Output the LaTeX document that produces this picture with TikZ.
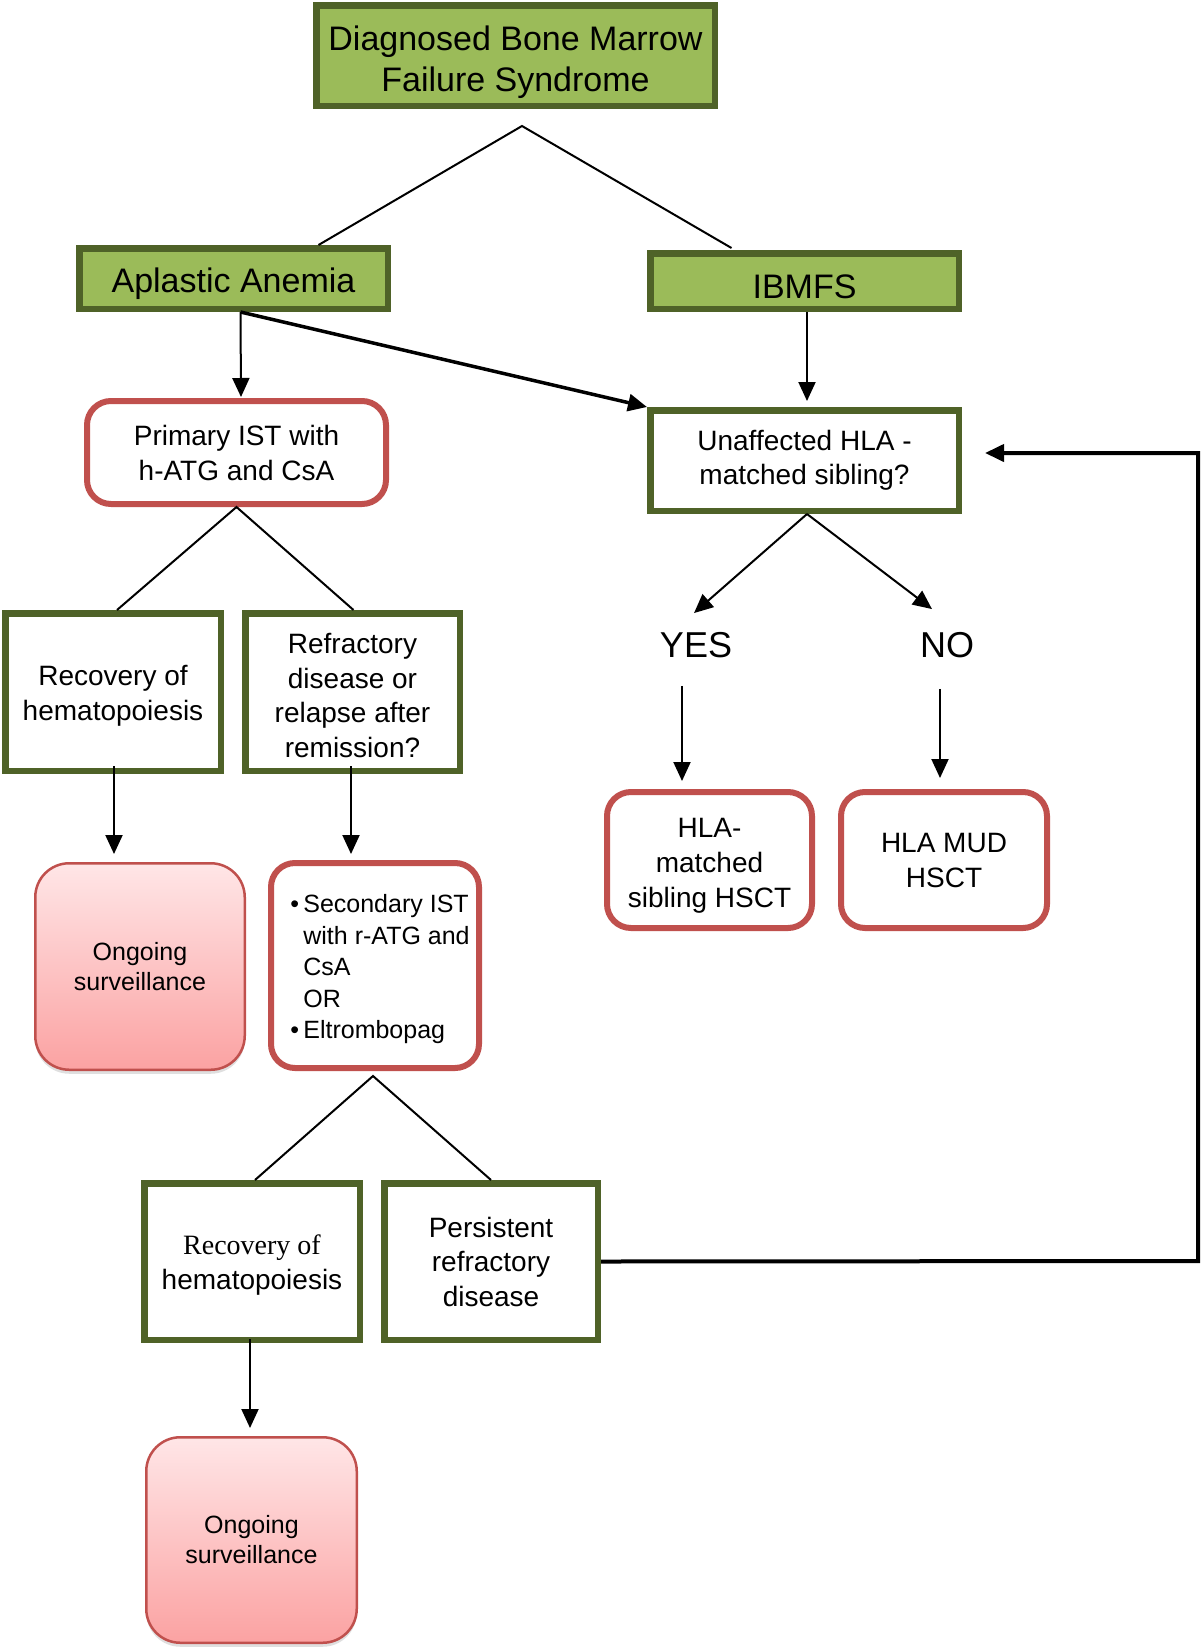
\documentclass[tikz,border=0pt]{standalone}
\usepackage{fontspec}
\setmainfont{Liberation Sans}
\newfontfamily\romanfont{Liberation Serif}
\usetikzlibrary{arrows.meta}
\usetikzlibrary{shadows}
\definecolor{boxgreen}{HTML}{9BBB59}
\definecolor{edgegreen}{HTML}{4F6228}
\definecolor{edgered}{HTML}{C0504D}
\definecolor{pinktop}{HTML}{FFE6E7}
\definecolor{pinkbot}{HTML}{FBA2A2}
\tikzset{
  fillbox/.style={draw=edgegreen,line width=6.5pt,fill=boxgreen,inner sep=0pt,align=center,font=\fontsize{34}{41}\selectfont},
  framebox/.style={draw=edgegreen,line width=6.5pt,fill=white,inner sep=0pt,align=center,font=\fontsize{28}{34.5}\selectfont},
  redbox/.style={draw=edgered,line width=6pt,fill=white,rounded corners=24pt,inner sep=0pt,align=center,font=\fontsize{28}{35}\selectfont},
  pinkbox/.style={draw=edgered,line width=2.5pt,top color=pinktop,bottom color=pinkbot,rounded corners=34pt,inner sep=0pt,align=center,
    font=\fontsize{25}{30}\selectfont,drop shadow={shadow xshift=0pt,shadow yshift=-4pt,opacity=0.25}},
  answer/.style={inner sep=0pt,font=\fontsize{36}{40}\selectfont},
  link/.style={line width=2pt},
  arrowlink/.style={line width=2pt,-{Triangle[length=19pt,width=17pt]}},
}
\newcommand{\greenfill}[6]{\node[fillbox,minimum width=#4pt,minimum height=#5pt] (#1) at (#2,#3) {#6};}
\newcommand{\greenframe}[6]{\node[framebox,minimum width=#4pt,minimum height=#5pt] (#1) at (#2,#3) {#6};}
\newcommand{\redframe}[6]{\node[redbox,minimum width=#4pt,minimum height=#5pt] (#1) at (#2,#3) {#6};}
\newcommand{\pinkfill}[6]{\node[pinkbox,minimum width=#4pt,minimum height=#5pt] (#1) at (#2,#3) {#6};}
% bullet and indent for the list box, strut to push text down
\newcommand{\bul}{\hspace*{10pt}\makebox[13pt][l]{\textbullet}}
\newcommand{\ind}{\hspace*{23pt}}
\newcommand{\sink}[1]{\rule{0pt}{#1}}

\begin{document}
\begin{tikzpicture}[x=1pt,y=-1pt]
\useasboundingbox (0,0) rectangle (1200,1649);
% diagnosis and its two branches
\greenfill{diag}{515.5}{55.5}{398.5}{100.5}{\sink{39pt}Diagnosed Bone Marrow\\Failure Syndrome}
\greenfill{aa}{233.5}{278.5}{308.5}{60.5}{\sink{35pt}Aplastic Anemia}
\greenfill{ibmfs}{804.5}{281}{308.5}{55.5}{\sink{35pt}IBMFS}
% first line of treatment
\redframe{primary}{236.5}{452.5}{299}{103}{Primary IST with\\h-ATG and CsA}
\greenframe{sibling}{804.5}{460.5}{308.5}{100.5}{Unaffected HLA -\\matched sibling?}
% outcomes of primary IST
\greenframe{recovA}{113}{692}{215.5}{157.5}{\sink{28pt}Recovery of\\hematopoiesis}
\greenframe{refract}{352.5}{692}{214.5}{157.5}{\sink{27pt}Refractory\\disease or\\relapse after\\remission?}
% sibling answers
\node[answer] (yes) at (696,645) {YES};
\node[answer] (no) at (947,645) {NO};
\redframe{sibhsct}{709.5}{860}{205}{136}{\sink{30pt}HLA-\\matched\\sibling HSCT}
\redframe{mudhsct}{944}{860}{206}{136}{HLA MUD\\HSCT}
% second line of treatment
\pinkfill{watchA}{140}{966.5}{209.5}{206.5}{Ongoing\\surveillance}
\node[redbox,minimum width=208pt,minimum height=205pt,align=left,font=\fontsize{25}{31.5}\selectfont] (second) at (375,965.5)
  {\sink{26pt}\bul Secondary IST\\\ind with r-ATG and\\\ind CsA\\\ind OR\\\bul Eltrombopag};
% outcomes of secondary IST
\greenframe{recovB}{252}{1261.5}{215.5}{156.5}{\sink{27pt}{\romanfont Recovery of}\\hematopoiesis}
\greenframe{persist}{491}{1261.5}{213.5}{156.5}{Persistent\\refractory\\disease}
\pinkfill{watchB}{251.5}{1540}{210.5}{205.5}{Ongoing\\surveillance}
% fork points
\coordinate (diagfork) at (522,126);
\coordinate (secfork) at (373,1076);
\coordinate (loopA) at (1198,1261);
\coordinate (loopB) at (1198,453);
% connectors
\draw[link] ([xshift=85pt]aa.north) -- (diagfork) -- ([xshift=-73pt,yshift=2pt]ibmfs.north);
\draw[arrowlink] ([xshift=7pt]aa.south) -- ([xshift=4.5pt,yshift=1pt]primary.north);
\draw[line width=3.5pt,-{Triangle[length=19pt,width=17pt]}] ([xshift=7pt]aa.south) -- (sibling.north west);
\draw[arrowlink] ([xshift=2.5pt]ibmfs.south) -- ([xshift=2.5pt,yshift=6pt]sibling.north);
\draw[link] ([xshift=4pt]recovA.north) -- (primary.south) -- ([xshift=1pt]refract.north);
\draw[arrowlink] ([xshift=2.5pt]sibling.south) -- ([xshift=-2pt,yshift=19pt]yes.north);
\draw[arrowlink] ([xshift=2.5pt]sibling.south) -- ([xshift=-15pt,yshift=23pt]no.north);
\draw[arrowlink,shorten >=8pt] ([xshift=-14pt,yshift=-28pt]yes.south) -- ([xshift=-14pt]yes.south |- sibhsct.north);
\draw[arrowlink] ([xshift=-7pt,yshift=-31pt]no.south) -- ([xshift=-7pt,yshift=11pt]no.south |- mudhsct.north);
\draw[arrowlink,shorten >=8pt] ([xshift=1pt,yshift=8pt]recovA.south) -- ([xshift=1pt]recovA.south |- watchA.north);
\draw[arrowlink,shorten >=6pt] ([xshift=-1.5pt,yshift=8pt]refract.south) -- ([xshift=-1.5pt]refract.south |- second.north);
\draw[link] ([xshift=3pt]recovB.north) -- (secfork) -- (persist.north);
\draw[arrowlink,shorten >=8pt] ([xshift=-2pt,yshift=4pt]recovB.south) -- ([xshift=-2pt]recovB.south |- watchB.north);
\draw[line width=4pt,-{Triangle[length=19pt,width=17pt]}] (persist.east) -- (loopA) -- (loopB) -- ([xshift=23pt]sibling.east |- loopB);
\end{tikzpicture}
\end{document}
